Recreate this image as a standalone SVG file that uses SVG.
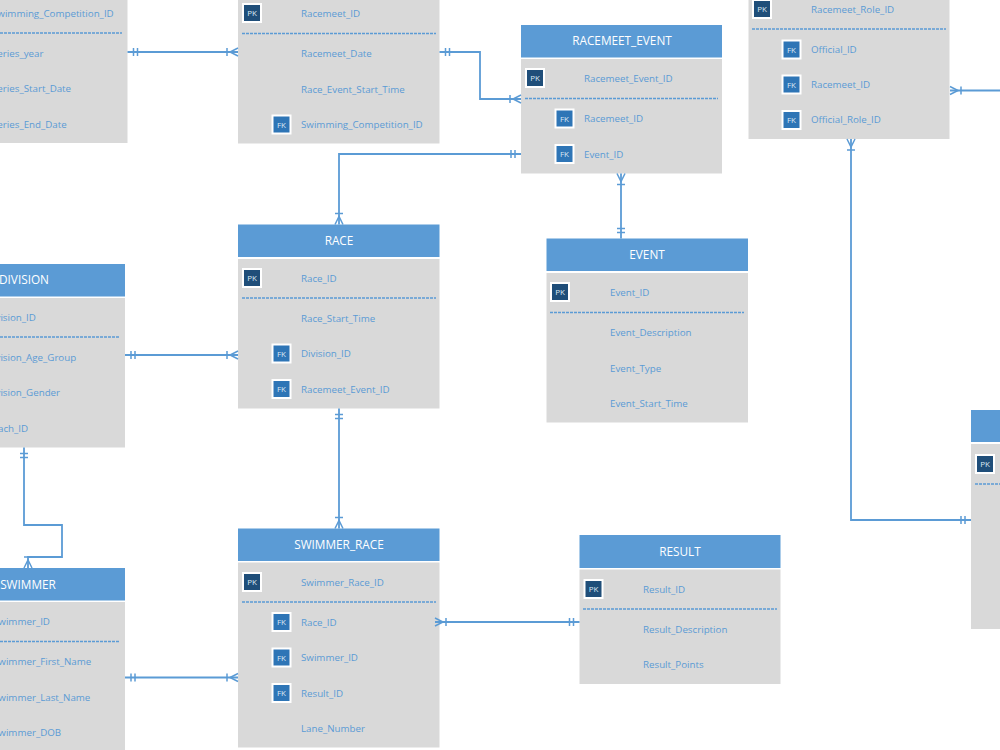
<svg xmlns="http://www.w3.org/2000/svg" width="1000" height="750" viewBox="0 0 1000 750">
<style>
text{font-family:"Open Sans","Liberation Sans",sans-serif}
.b{fill:#d9d9d9}
.h{fill:#5b9bd5}
.t{fill:#5b9bd5;font-size:9.75px}
.n{fill:#fff;font-size:11.8px;text-anchor:middle}
.s{stroke:#5b9bd5;stroke-width:1.5;stroke-dasharray:3 1;fill:none}
.pk{fill:#1f4e79;stroke:#fff;stroke-width:2}
.fk{fill:#2e75b6;stroke:#fff;stroke-width:2}
.k{fill:#dbe7f3;font-size:8px;text-anchor:middle}
.c{fill:none;stroke:#5b9bd5;stroke-width:1.8;stroke-linejoin:miter}
.m{fill:none;stroke:#5b9bd5;stroke-width:1.5}
</style>
<defs>
<marker id="many" markerUnits="userSpaceOnUse" markerWidth="20" markerHeight="14" refX="16" refY="7" orient="auto-start-reverse" overflow="visible"><path class="m" d="M5,3V11M16,3L8,7L16,11"/></marker>
<marker id="one" markerUnits="userSpaceOnUse" markerWidth="20" markerHeight="14" refX="16" refY="7" orient="auto-start-reverse" overflow="visible"><path class="m" d="M6,3V11M10,3V11"/></marker>
</defs>

<g id="swimming_competition">
<rect class="b" x="-10" y="-5" width="137.500" height="148"/>
<path class="s" d="M0,33H122"/>
<text class="t" x="-8" y="17">Swimming_Competition_ID</text>
<text class="t" x="-8" y="57">Series_year</text>
<text class="t" x="-8" y="92">Series_Start_Date</text>
<text class="t" x="-8" y="128">Series_End_Date</text>
</g>

<g id="racemeet">
<rect class="b" x="238" y="-5" width="201.500" height="148.500"/>
<path class="s" d="M242,33.500H436"/>
<rect class="pk" x="243" y="4" width="18" height="18"/><text class="k" x="252" y="16">PK</text>
<rect class="fk" x="272.500" y="115.500" width="18" height="18"/><text class="k" x="281.500" y="127.500">FK</text>
<text class="t" x="301" y="17">Racemeet_ID</text>
<text class="t" x="301" y="57">Racemeet_Date</text>
<text class="t" x="301" y="93">Race_Event_Start_Time</text>
<text class="t" x="301" y="128">Swimming_Competition_ID</text>
</g>

<g id="racemeet_event">
<rect class="h" x="521" y="25" width="201" height="32.500"/>
<text class="n" x="622" y="45">RACEMEET_EVENT</text>
<rect class="b" x="521" y="59" width="201" height="114.500"/>
<path class="s" d="M525,98.500H718"/>
<rect class="pk" x="526" y="69" width="18" height="18"/><text class="k" x="535" y="81">PK</text>
<rect class="fk" x="555.500" y="109.500" width="18" height="18"/><text class="k" x="564.500" y="121.500">FK</text>
<rect class="fk" x="555.500" y="145" width="18" height="18"/><text class="k" x="564.500" y="157">FK</text>
<text class="t" x="584" y="82">Racemeet_Event_ID</text>
<text class="t" x="584" y="122">Racemeet_ID</text>
<text class="t" x="584" y="158">Event_ID</text>
</g>

<g id="racemeet_role">
<rect class="b" x="748.500" y="-5" width="201" height="144"/>
<path class="s" d="M752,29H946"/>
<rect class="pk" x="753" y="0" width="18" height="18"/><text class="k" x="762" y="12">PK</text>
<rect class="fk" x="782.500" y="40.500" width="18" height="18"/><text class="k" x="791.500" y="52.500">FK</text>
<rect class="fk" x="782.500" y="75.500" width="18" height="18"/><text class="k" x="791.500" y="87.500">FK</text>
<rect class="fk" x="782.500" y="111" width="18" height="18"/><text class="k" x="791.500" y="123">FK</text>
<text class="t" x="811" y="12.500">Racemeet_Role_ID</text>
<text class="t" x="811" y="53">Official_ID</text>
<text class="t" x="811" y="88">Racemeet_ID</text>
<text class="t" x="811" y="123">Official_Role_ID</text>
</g>

<g id="race">
<rect class="h" x="238" y="224.500" width="201.500" height="32.500"/>
<text class="n" x="339" y="245">RACE</text>
<rect class="b" x="238" y="259" width="201.500" height="149.500"/>
<path class="s" d="M242,298H436"/>
<rect class="pk" x="243" y="269" width="18" height="18"/><text class="k" x="252" y="281">PK</text>
<rect class="fk" x="272.500" y="344.500" width="18" height="18"/><text class="k" x="281.500" y="356.500">FK</text>
<rect class="fk" x="272.500" y="380" width="18" height="18"/><text class="k" x="281.500" y="392">FK</text>
<text class="t" x="301" y="282">Race_ID</text>
<text class="t" x="301" y="322">Race_Start_Time</text>
<text class="t" x="301" y="357">Division_ID</text>
<text class="t" x="301" y="393">Racemeet_Event_ID</text>
</g>

<g id="event">
<rect class="h" x="546.500" y="238.500" width="201.500" height="32.500"/>
<text class="n" x="647" y="259">EVENT</text>
<rect class="b" x="546.500" y="273" width="201.500" height="149.500"/>
<path class="s" d="M550,312.500H744"/>
<rect class="pk" x="551" y="283" width="18" height="18"/><text class="k" x="560" y="295">PK</text>
<text class="t" x="610" y="296">Event_ID</text>
<text class="t" x="610" y="336">Event_Description</text>
<text class="t" x="610" y="372">Event_Type</text>
<text class="t" x="610" y="407">Event_Start_Time</text>
</g>

<g id="division">
<rect class="h" x="-10" y="264" width="135" height="32.500"/>
<text class="n" x="24" y="284">DIVISION</text>
<rect class="b" x="-10" y="298" width="135" height="149.500"/>
<path class="s" d="M0,337H120"/>
<text class="t" x="-14" y="321">Division_ID</text>
<text class="t" x="-14" y="361">Division_Age_Group</text>
<text class="t" x="-14" y="396">Division_Gender</text>
<text class="t" x="-14" y="432">Coach_ID</text>
</g>

<g id="swimmer">
<rect class="h" x="-10" y="568" width="135" height="32.500"/>
<text class="n" x="28" y="589">SWIMMER</text>
<rect class="b" x="-10" y="602" width="135" height="153"/>
<path class="s" d="M0,641.500H120"/>
<text class="t" x="-7" y="625">Swimmer_ID</text>
<text class="t" x="-7" y="665">Swimmer_First_Name</text>
<text class="t" x="-7" y="701">Swimmer_Last_Name</text>
<text class="t" x="-7" y="736">Swimmer_DOB</text>
</g>

<g id="swimmer_race">
<rect class="h" x="238" y="528.500" width="201.500" height="32.500"/>
<text class="n" x="339" y="549">SWIMMER_RACE</text>
<rect class="b" x="238" y="562.500" width="201.500" height="185"/>
<path class="s" d="M242,602H436"/>
<rect class="pk" x="243" y="573" width="18" height="18"/><text class="k" x="252" y="585">PK</text>
<rect class="fk" x="272.500" y="613" width="18" height="18"/><text class="k" x="281.500" y="625">FK</text>
<rect class="fk" x="272.500" y="648.500" width="18" height="18"/><text class="k" x="281.500" y="660.500">FK</text>
<rect class="fk" x="272.500" y="684" width="18" height="18"/><text class="k" x="281.500" y="696">FK</text>
<text class="t" x="301" y="586">Swimmer_Race_ID</text>
<text class="t" x="301" y="626">Race_ID</text>
<text class="t" x="301" y="661">Swimmer_ID</text>
<text class="t" x="301" y="697">Result_ID</text>
<text class="t" x="301" y="732">Lane_Number</text>
</g>

<g id="result">
<rect class="h" x="579.500" y="535" width="201" height="33"/>
<text class="n" x="680" y="556">RESULT</text>
<rect class="b" x="579.500" y="569.500" width="201" height="114.500"/>
<path class="s" d="M583,609H777"/>
<rect class="pk" x="584.500" y="580" width="18" height="18"/><text class="k" x="593.500" y="592">PK</text>
<text class="t" x="643" y="593">Result_ID</text>
<text class="t" x="643" y="633">Result_Description</text>
<text class="t" x="643" y="668">Result_Points</text>
</g>

<g id="right_table">
<rect class="h" x="971" y="410" width="35" height="32"/>
<rect class="b" x="971" y="444" width="35" height="185"/>
<path class="s" d="M975,484H1002"/>
<rect class="pk" x="976" y="455" width="18" height="18"/><text class="k" x="985" y="467">PK</text>
</g>

<g id="connectors">
<path class="c" marker-start="url(#one)" marker-end="url(#many)" d="M127.500,52H238"/>
<path class="c" marker-start="url(#one)" marker-end="url(#many)" d="M439.500,52H480V99H521"/>
<path class="c" marker-start="url(#one)" marker-end="url(#many)" d="M521,154H339V224.500"/>
<path class="c" marker-start="url(#many)" marker-end="url(#one)" d="M621,173.500V238.500"/>
<path class="c" marker-start="url(#many)" marker-end="url(#one)" d="M851,139V520H971"/>
<path class="c" marker-end="url(#many)" d="M1000,90.500H950"/>
<path class="c" marker-start="url(#one)" marker-end="url(#many)" d="M125,355H238"/>
<path class="c" marker-start="url(#one)" marker-end="url(#many)" d="M339,408.500V528.500"/>
<path class="c" marker-start="url(#one)" marker-end="url(#many)" d="M24,447.500V525H62V557H28V568"/>
<path class="c" marker-start="url(#one)" marker-end="url(#many)" d="M125,677.500H238"/>
<path class="c" marker-start="url(#many)" marker-end="url(#one)" d="M435,622H579.500"/>
</g>
</svg>
